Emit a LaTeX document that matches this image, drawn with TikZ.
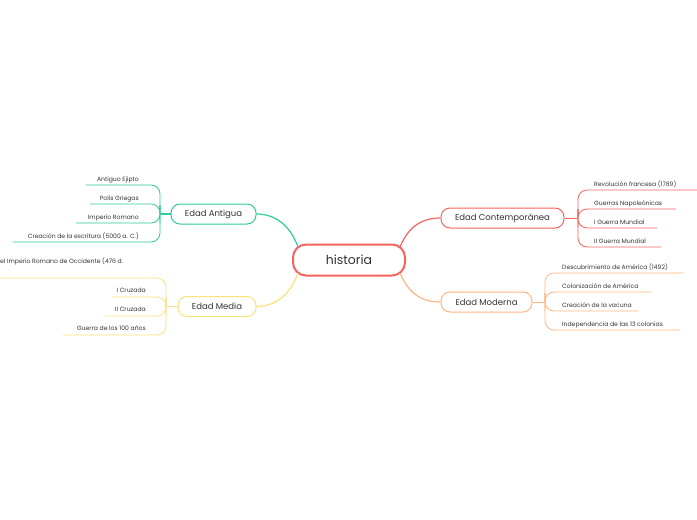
\documentclass[tikz,border=0pt]{standalone}
\usepackage{fontspec}
\setmainfont{Poppins}
\definecolor{cR}{HTML}{F4645F}
\definecolor{cG}{HTML}{2ECC9A}
\definecolor{cY}{HTML}{FAE27C}
\definecolor{cO}{HTML}{FFB680}
\definecolor{tx}{HTML}{333333}
\begin{document}
\begin{tikzpicture}[x=1pt,y=-1pt,
  topic/.style={draw=#1,line width=1pt,rounded corners=9pt,fill=white,minimum height=20pt,inner xsep=8pt,font=\fontsize{8.5}{9}\selectfont,text=tx},
  leaf/.style={anchor=base west,inner sep=0pt,font=\fontsize{6.1}{7}\selectfont,text=tx},
  leafr/.style={anchor=base east,inner sep=0pt,font=\fontsize{6.1}{7}\selectfont,text=tx},
  br/.style={draw=#1,line width=0.8pt,rounded corners=9pt},
  ul/.style={draw=#1,line width=0.7pt}]
\useasboundingbox (0,0) rectangle (697,520);
\node[draw=cR,line width=2pt,rounded corners=13pt,minimum width=112pt,minimum height=31pt,font=\fontsize{12.5}{14}\selectfont,text=tx] (h) at (349,260) {historia};
\node[topic=cG,minimum width=85pt] (ant) at (213.5,214) {Edad Antigua};
\node[topic=cY,minimum width=78pt] (med) at (217,306.5) {Edad Media};
\node[topic=cR,minimum width=123pt] (con) at (502.5,218) {Edad Contemporánea};
\node[topic=cO,minimum width=91pt] (mod) at (486.5,302) {Edad Moderna};
\draw[cG,line width=1.2pt] (298,247) .. controls (290,225) and (275,214) .. (ant.east);
\draw[cY,line width=1.2pt] (298,273) .. controls (290,295) and (275,306.5) .. (med.east);
\draw[cR,line width=1.2pt] (400,247) .. controls (408,228) and (420,218) .. (con.west);
\draw[cO,line width=1.2pt] (400,273) .. controls (408,292) and (420,302) .. (mod.west);
\node[leafr] (a1) at (139,181) {Antiguo Ejipto};
\node[leafr] (a2) at (139,200) {Polis Griegas};
\node[leafr] (a3) at (139,219) {Imperio Romano};
\node[leafr] (a4) at (139,238) {Creación de la escritura (5000 a. C.)};
\coordinate (aj) at (160,214);
\draw[cG,line width=2pt] (ant.west) -- (aj);
\foreach \y/\x in {185/86,204/90,223/76,242/13}{
  \draw[br=cG] (aj) -| (160,\y) -- (\x,\y);}
\node[anchor=base west,inner sep=0pt,font=\fontsize{6.1}{7}\selectfont,text=tx] (m0) at (0,263) {el Imperio Romano de Occidente (476 d.};
\node[leafr] (m1) at (146,292) {I Cruzada};
\node[leafr] (m2) at (146,311) {II Cruzada};
\node[leafr] (m3) at (146,330) {Guerra de los 100 años};
\coordinate (mj) at (166,306.5);
\draw[cY,line width=1pt] (med.west) -- (mj);
\foreach \y/\x in {278/0,297/112,316/105,335/63}{
  \draw[br=cY] (mj) -| (166,\y) -- (\x,\y);}
\node[leaf] (c1) at (594,186) {Revolución francesa (1789)};
\node[leaf] (c2) at (594,205) {Guerras Napoleónicas};
\node[leaf] (c3) at (594,224) {I Guerra Mundial};
\node[leaf] (c4) at (594,243) {II Guerra Mundial};
\coordinate (cj) at (578,218);
\draw[cR,line width=1pt] (con.east) -- (cj);
\foreach \y/\x in {190/697,209/676,228/657,247/661}{
  \draw[br=cR] (cj) -| (578,\y) -- (\x,\y);}
\node[leaf] (o1) at (562,269) {Descubrimiento de América (1492)};
\node[leaf] (o2) at (562,288) {Colonización de América};
\node[leaf] (o3) at (562,307) {Creación de la vacuna};
\node[leaf] (o4) at (562,326) {Independencia de las 13 colonias};
\coordinate (oj) at (545,302);
\draw[cO,line width=1pt] (mod.east) -- (oj);
\foreach \y/\x in {273/684,292/652,311/638,330/680}{
  \draw[br=cO] (oj) -| (545,\y) -- (\x,\y);}
\end{tikzpicture}
\end{document}
